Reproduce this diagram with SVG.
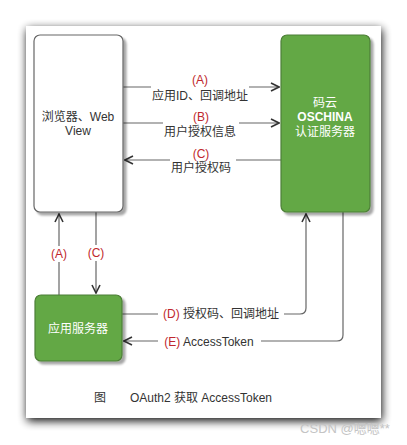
<svg xmlns="http://www.w3.org/2000/svg" width="407" height="445" viewBox="0 0 407 445">
<defs>
<filter id="cardShadow" x="-10%" y="-10%" width="120%" height="120%">
<feGaussianBlur in="SourceAlpha" stdDeviation="5"/>
<feOffset dx="1" dy="3" result="b"/>
<feComponentTransfer><feFuncA type="linear" slope="0.95"/></feComponentTransfer>
<feMerge><feMergeNode/><feMergeNode in="SourceGraphic"/></feMerge>
</filter>
<filter id="boxShadow" x="-10%" y="-10%" width="130%" height="130%">
<feGaussianBlur in="SourceAlpha" stdDeviation="1"/>
<feOffset dx="3" dy="3" result="b"/>
<feComponentTransfer><feFuncA type="linear" slope="0.35"/></feComponentTransfer>
<feMerge><feMergeNode/><feMergeNode in="SourceGraphic"/></feMerge>
</filter>
<marker id="arr" viewBox="0 0 10 10" refX="9" refY="5" markerWidth="10" markerHeight="10" markerUnits="userSpaceOnUse" orient="auto">
<path d="M1,1 L9,5 L1,9" fill="none" stroke="#333" stroke-width="1.6"/>
</marker>
</defs>
<style>
.ln{fill:none;stroke:#666;stroke-width:1.2}
.t{font-family:"Liberation Sans","Noto Sans CJK SC",sans-serif;font-size:12px;fill:#333;text-anchor:middle;dominant-baseline:central}
.r{fill:#c0272d}
.w{fill:#fff}
.lbl{fill:#fff}
</style>
<rect width="407" height="445" fill="#fff"/>
<rect x="26" y="26" width="355" height="392" fill="#fff" filter="url(#cardShadow)"/>

<g id="connectors">
<path class="ln" d="M123,87 H279" marker-end="url(#arr)"/>
<path class="ln" d="M123,123 H279" marker-end="url(#arr)"/>
<path class="ln" d="M281,160 H125" marker-end="url(#arr)"/>
<path class="ln" d="M59,295 V214" marker-end="url(#arr)"/>
<path class="ln" d="M96,212 V293" marker-end="url(#arr)"/>
<path class="ln" d="M122,314 H300 Q306,314 306,308 V214" marker-end="url(#arr)"/>
<path class="ln" d="M343,212 V335 Q343,341 337,341 H124" marker-end="url(#arr)"/>
<rect class="lbl" x="151" y="76" width="98" height="27"/>
<rect class="lbl" x="163" y="111" width="76" height="28"/>
<rect class="lbl" x="170" y="147" width="66" height="28"/>
<rect class="lbl" x="48" y="246" width="22" height="16"/>
<rect class="lbl" x="85" y="245" width="22" height="16"/>
<rect class="lbl" x="158" y="306" width="126" height="16"/>
<rect class="lbl" x="158" y="333" width="103" height="16"/>
<text class="t r" x="200" y="80">(A)</text>
<text class="t" x="200" y="96">应用ID、回调地址</text>
<text class="t r" x="201" y="117">(B)</text>
<text class="t" x="200" y="132">用户授权信息</text>
<text class="t r" x="201" y="154">(C)</text>
<text class="t" x="201" y="168">用户授权码</text>
<text class="t r" x="59" y="254">(A)</text>
<text class="t r" x="96" y="253">(C)</text>
<text class="t" x="221" y="314"><tspan class="r">(D)</tspan> 授权码、回调地址</text>
<text class="t" x="209" y="342"><tspan class="r">(E)</tspan> AccessToken</text>
</g>

<g id="browser">
<rect x="34" y="35" width="89" height="177" rx="6" fill="#fff" stroke="#666" stroke-width="1.2" filter="url(#boxShadow)"/>
<text class="t" x="78" y="117">浏览器、Web</text>
<text class="t" x="78" y="131">View</text>
</g>

<g id="auth-server">
<rect x="281" y="35" width="89" height="177" rx="6" fill="#63a844" stroke="#4d7f37" stroke-width="1.2" filter="url(#boxShadow)"/>
<text class="t w" x="325" y="103">码云</text>
<text class="t w" x="325" y="117" font-weight="bold">OSCHINA</text>
<text class="t w" x="325" y="132" font-size="13">认证服务器</text>
</g>

<g id="app-server">
<rect x="35" y="295" width="87" height="66" rx="6" fill="#63a844" stroke="#4d7f37" stroke-width="1.2" filter="url(#boxShadow)"/>
<text class="t w" x="78" y="329" font-size="13">应用服务器</text>
</g>

<g id="caption">
<text class="t" x="100" y="398">图</text>
<text class="t" x="201" y="398">OAuth2 获取 AccessToken</text>
</g>
<text x="345" y="428" font-family="Liberation Sans,'Noto Sans CJK SC',sans-serif" font-size="13" fill="#c4c4c4" text-anchor="middle" dominant-baseline="central">CSDN @嗯嗯**</text>
</svg>
